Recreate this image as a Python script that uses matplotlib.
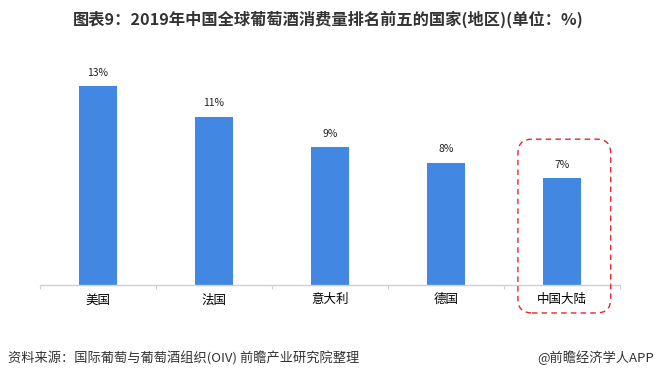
import matplotlib
matplotlib.use("Agg")
import matplotlib.pyplot as plt
from matplotlib.patches import FancyBboxPatch

plt.rcParams['font.family'] = ['Noto Sans CJK SC', 'DejaVu Sans']

regions = ["美国", "法国", "意大利", "德国", "中国大陆"]
shares = [13, 11, 9, 8, 7]
value_labels = ["13%", "11%", "9%", "8%", "7%"]

title = "图表9：2019年中国全球葡萄酒消费量排名前五的国家(地区)(单位：%)"
source = "资料来源：国际葡萄与葡萄酒组织(OIV) 前瞻产业研究院整理"
brand = "@前瞻经济学人APP"

bar_color = "#4287e2"

fig = plt.figure(figsize=(6.56, 3.81), dpi=100)
ax = fig.add_axes([40 / 656, 96 / 381, 580 / 656, 214 / 381])

x = list(range(len(regions)))
ax.bar(x, shares, width=0.32, color=bar_color, zorder=2)
for xi, v, lab in zip(x, shares, value_labels):
    ax.text(xi, v + 0.55, lab, ha='center', va='bottom', fontsize=7.5, color='#222222')

ax.set_xlim(-0.5, len(regions) - 0.5)
ax.set_ylim(0, 14)
ax.set_yticks([])
ax.set_xticks(x)
ax.set_xticklabels(regions, fontsize=9, color='black')
ax.tick_params(axis='x', length=0, pad=6)
# small ticks between categories
ax.set_xticks([i - 0.5 for i in range(len(regions) + 1)], minor=True)
ax.tick_params(axis='x', which='minor', length=3, color='#cccccc', width=0.8)
for s in ['top', 'right', 'left']:
    ax.spines[s].set_visible(False)
ax.spines['bottom'].set_color('#d0d0d0')
ax.spines['bottom'].set_linewidth(1.0)

# dashed highlight box around the last bar
fig.canvas.draw()
x0, y0 = ax.transData.transform((3.62, -1.83))
x1, y1 = ax.transData.transform((4.42, 9.54))
box = FancyBboxPatch((x0, y0), x1 - x0, y1 - y0,
                     boxstyle="round,pad=0,rounding_size=14",
                     transform=None, fill=False, edgecolor='#e8262a',
                     linestyle=(0, (4, 3)), linewidth=1.0, clip_on=False)
fig.patches.append(box)

fig.text(0.5, 1 - 19 / 381, title, ha='center', va='center', fontsize=11.7,
         fontweight='bold', color='#333333')
fig.text(8 / 656, 1 - 358 / 381, source, ha='left', va='center', fontsize=9.5, color='#333333')
fig.text(654 / 656, 1 - 358 / 381, brand, ha='right', va='center', fontsize=9.5, color='#333333')

fig.savefig("out.png", dpi=100)
